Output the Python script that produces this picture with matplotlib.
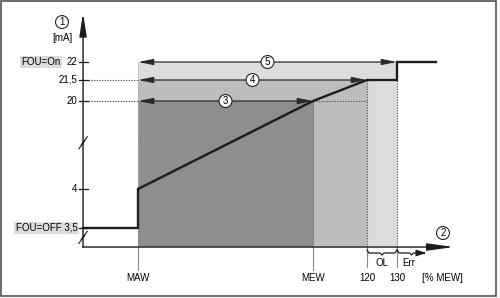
import matplotlib.pyplot as plt
import numpy as np
from matplotlib.transforms import IdentityTransform
from matplotlib.patches import Rectangle

# values on the axes (% MEW horizontally, mA vertically); MAW taken as 0 %
x_ticks = [0, 100, 120, 130]
x_labels = ['MAW', 'MEW', '120', '130']
y_ticks = [3.5, 4, 20, 21.5, 22]
y_labels = ['3,5', '4', '20', '21,5', '22']

# output curve
curve_x = [-31.4, 0, 0, 100, 120, 130, 130, 143]
curve_y = [3.5, 3.5, 4, 20, 21.5, 21.5, 22, 22]

# shaded ranges: (x end, y top, colour)
band_x_end = [130, 120, 100]
band_y_top = [22, 21.5, 20]
band_cols = ['#dcdcde', '#bdbdbf', '#8e8e91']
band_tags = ['5', '4', '3']

x_origin, x_tip = -31.4, 149
y_origin, y_tip = 3.256, 23.36

# the drawing is schematic: piecewise linear axes
x_pix = [138, 313, 367, 397]
y_pix = [70, 109, 197, 218, 236]


def piecewise(knots, pix):
    k = np.asarray(knots, float)
    p = np.asarray(pix, float)

    def conv(v, a, b):
        v = np.asarray(v, float)
        out = np.interp(v, a, b)
        out = np.where(v < a[0], b[0] + (v - a[0]) * (b[1] - b[0]) / (a[1] - a[0]), out)
        out = np.where(v > a[-1], b[-1] + (v - a[-1]) * (b[-1] - b[-2]) / (a[-1] - a[-2]), out)
        return out

    return (lambda v: conv(v, k, p)), (lambda q: conv(q, p, k))


fx, ix = piecewise(x_ticks, x_pix)
fy, iy = piecewise(y_ticks, y_pix)

plt.rcParams['font.family'] = ['Liberation Sans', 'DejaVu Sans']
fs = 7
dark = '#1c1c1c'

fig = plt.figure(figsize=(5, 2.98), dpi=100)
ax = fig.add_axes([0, 0, 1, 1])
ax.set_xscale('function', functions=(fx, ix))
ax.set_yscale('function', functions=(fy, iy))
ax.set_xlim(float(ix(0)), float(ix(500)))
ax.set_ylim(float(iy(0)), float(iy(298)))
ax.axis('off')

# outer frame
fig.patches.append(Rectangle((0.5 / 500, 2 / 298), 495.5 / 500, 295.5 / 298,
                             transform=fig.transFigure, fill=False,
                             ec='#444444', lw=1.1))

# bands
for xe, yt, c in zip(band_x_end, band_y_top, band_cols):
    ax.fill_between([x_ticks[0], xe], y_origin, yt, color=c, lw=0, zorder=1)

# dotted guides
dot = dict(color='#555555', lw=0.8, ls=(0, (1.2, 1.2)), zorder=2)
ax.plot([x_origin, 0], [20, 20], **dot)
ax.plot([x_origin, 0], [21.5, 21.5], **dot)
ax.plot([100, 120], [20, 20], **dot)
ax.plot([100, 100], [y_origin, 20], **dot)
ax.plot([120, 120], [y_origin, 21.5], **dot)
ax.plot([130, 130], [y_origin, 21.5], **dot)
ax.plot([0, 0], [4, 22], color='#aaaaaa', lw=0.7, ls=(0, (1.2, 1.2)), zorder=2)

# range arrows with circled tags
for xe, yt, tag in zip(band_x_end, band_y_top, band_tags):
    ax.annotate('', xy=(xe, yt), xytext=(0, yt),
                arrowprops=dict(arrowstyle='<|-|>,head_length=0.9,head_width=0.18',
                                color='#2a2a2a', lw=0.9, shrinkA=0, shrinkB=0),
                zorder=3)
    xm = float(ix((fx(0) + fx(xe)) / 2))
    ax.text(xm, yt, tag, fontsize=fs, ha='center', va='center', zorder=4,
            bbox=dict(boxstyle='circle,pad=0.15', fc='white', ec='#222222', lw=0.8))

# output curve
ax.plot(curve_x, curve_y, color=dark, lw=1.7, solid_joinstyle='miter', zorder=5)

# axes with arrows
ax.annotate('', xy=(x_origin, y_tip), xytext=(x_origin, y_origin),
            arrowprops=dict(arrowstyle='-|>,head_length=1.4,head_width=0.22',
                            color=dark, lw=1.0, shrinkA=0, shrinkB=0), zorder=6)
ax.annotate('', xy=(x_tip, y_origin), xytext=(x_origin - 0.3, y_origin),
            arrowprops=dict(arrowstyle='-|>,head_length=1.6,head_width=0.22',
                            color=dark, lw=1.0, shrinkA=0, shrinkB=0), zorder=6)

# y ticks and labels
ytr = ax.get_yaxis_transform()
for v, lab in zip(y_ticks, y_labels):
    ax.plot([0.158, 0.176], [v, v], color=dark, lw=0.9, transform=ytr, zorder=6)
    if lab == '3,5':
        continue
    ax.text(0.155, v, lab, fontsize=fs, ha='right', va='center', transform=ytr)
ax.text(0.155, 3.5, 'FOU=OFF 3,5', fontsize=fs, ha='right', va='center', transform=ytr,
        bbox=dict(boxstyle='square,pad=0.15', fc='#dcdcdc', ec='none'))
ax.text(0.042, 22, 'FOU=On', fontsize=fs, ha='left', va='center', transform=ytr,
        bbox=dict(boxstyle='square,pad=0.15', fc='#dcdcdc', ec='none'))

# x ticks and labels
xtr = ax.get_xaxis_transform()
for v, lab in zip(x_ticks, x_labels):
    y0 = 0.094 if lab in ('MAW', 'MEW') else 0.105
    ax.plot([v, v], [y0, 51 / 298], color='#8a8a8a', lw=0.8, transform=xtr, zorder=2)
    ax.text(v, 0.067, lab, fontsize=fs, ha='center', va='center', transform=xtr)
ax.text(145.3, 0.067, '[% MEW]', fontsize=fs, ha='center', va='center', transform=xtr)
ax.text(125, 0.117, 'OL', fontsize=fs, ha='center', va='center', transform=xtr)
ax.text(133.8, 0.117, 'Err', fontsize=fs, ha='center', va='center', transform=xtr)

# axis titles
ax.text(0.124, 0.926, '1', fontsize=fs, ha='center', va='center', transform=ax.transAxes,
        bbox=dict(boxstyle='circle,pad=0.15', fc='white', ec='#222222', lw=0.8))
ax.text(0.124, 0.872, '[mA]', fontsize=fs, ha='center', va='center', transform=ax.transAxes)
ax.text(0.886, 0.218, '2', fontsize=fs, ha='center', va='center', transform=ax.transAxes,
        bbox=dict(boxstyle='circle,pad=0.15', fc='white', ec='#222222', lw=0.8))

# braces under the x axis (pixel space)
idt = IdentityTransform()


def brace(x0, x1, yb, arrow=False):
    p0 = fx(x0)
    p1 = fx(x1)
    pm = (p0 + p1) / 2
    xs = [p0, p0 + 2, pm - 2, pm, pm + 2, p1 - 2, p1]
    ys = [yb + 3, yb, yb, yb - 2, yb, yb, yb + 3]
    if arrow:
        xs = xs[:-1]
        ys = ys[:-1]
        ax.annotate('', xy=(p1, yb), xytext=(p1 - 3, yb), xycoords=idt, textcoords=idt,
                    arrowprops=dict(arrowstyle='-|>,head_length=0.6,head_width=0.2',
                                    color=dark, lw=0.8, shrinkA=0, shrinkB=0))
        xs.append(p1 - 3)
        ys.append(yb)
    ax.plot(xs, ys, color=dark, lw=0.9, transform=idt, zorder=6)


brace(120, 130, 45)
brace(130, 139.7, 45, arrow=True)

# axis break marks
for yv in (12.4, 3.38):
    cx = float(fx(x_origin))
    cy = float(fy(yv))
    for d in (-2, 2):
        ax.plot([cx - 3 + d * 0.6, cx + 3 + d * 0.6], [cy - 4 + d, cy + 4 + d],
                color=dark, lw=0.8, transform=idt, zorder=7)

fig.savefig('out.png', dpi=100)
